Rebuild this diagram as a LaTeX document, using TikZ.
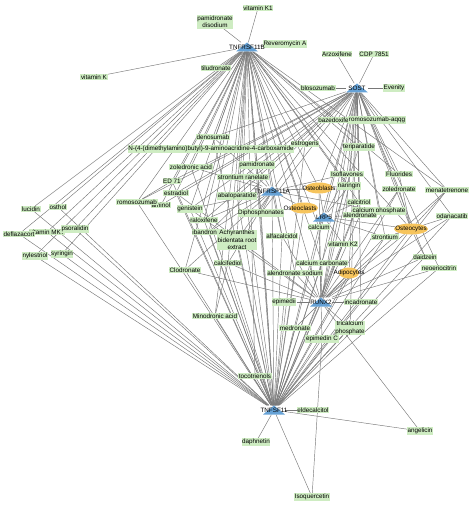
\documentclass[tikz,border=0pt]{standalone}
\usepackage{fontspec}
\setsansfont{Liberation Sans}
\usepackage{tikz}
\usetikzlibrary{positioning,shapes,backgrounds}
\definecolor{drugfill}{RGB}{206,236,194}
\definecolor{hubfill}{RGB}{102,162,214}
\definecolor{cellfill}{RGB}{246,196,92}
\definecolor{edgecol}{RGB}{120,120,120}
\newcommand{\netfont}{\sffamily\fontsize{6.3}{7.5}\selectfont}
\tikzstyle{drug}=[fill=drugfill, inner sep=0.6pt, font=\netfont, align=center]
\tikzstyle{tag}=[font=\netfont, inner sep=0]
\tikzstyle{hub}=[inner sep=0, minimum width=22pt, minimum height=9pt,
  path picture={\fill[hubfill] (path picture bounding box.south west) -- (path picture bounding box.north) -- (path picture bounding box.south east) -- cycle;}]
\tikzstyle{cell}=[ellipse, fill=cellfill, minimum width=28pt, minimum height=11pt, inner sep=0]
\tikzstyle{link}=[draw=edgecol, line width=0.45pt]

\begin{document}
\begin{tikzpicture}[x=1pt,y=-1pt,node distance=38pt]
\useasboundingbox (0,0) rectangle (474,505);

% top
\node[drug] at (258,8) (vitkone) {vitamin K1};
\node[drug] at (215,22) (pamidis) {pamidronate\\disodium};
\node[drug] at (285,44) (reveromycin) {Reveromycin A};
\node[hub, label={[tag]center:TNFRSF11B}] at (247,47) (tnfrsfb) {};
\node[drug] at (216,68) (tiludronate) {tiludronate};
\node[drug] at (94,77) (vitk) {vitamin K};
\node[drug] at (337,54) (arzox) {Arzoxifene};
\node[drug] at (374,54) (cdp) {CDP 7851};
\node[hub, label={[tag]center:SOST}] at (357,88) (sost) {};
\node[drug, left of = sost, node distance = 39pt] (blosozumab) {blosozumab};
\node[drug, right of = sost, node distance = 37pt] (evenity) {Evenity};
\node[drug] at (337,120) (bazedox) {bazedoxifene};
\node[drug] at (377,120) (romoaqqg) {romosozumab-aqqg};

% middle
\node[drug] at (213,137) (denosumab) {denosumab};
\node[drug] at (211,149) (acridine) {N-(4-(dimethylamino)butyl)-9-aminoacridine-4-carboxamide};
\node[drug] at (305,144) (estrogens) {estrogens};
\node[drug] at (359,147) (teriparatide) {teriparatide};
\node[drug] at (191,167) (zoledronicacid) {zoledronic acid};
\node[drug] at (257,165) (pamidronate) {pamidronate};
\node[drug] at (243,177) (stronrane) {strontium ranelate};
\node[drug] at (172,181) (edsevone) {ED 71};
\node[drug] at (176,193) (estradiol) {estradiol};
\node[drug] at (237,196) (abaloparatide) {abaloparatide};
\node[drug] at (347,174) (isoflavones) {Isoflavones};
\node[drug] at (399,174) (fluorides) {Fluorides};
\node[drug] at (349,186) (naringin) {naringin};
\node[drug] at (399,189) (zoledronate) {zoledronate};
\node[drug] at (447,190) (menatetrenone) {menatetrenone};
\node[hub, label={[tag]center:TNFRSF11A}] at (272,191) (tnfrsfa) {};
\node[cell, label={[tag]center:Osteoblasts}] at (319,188) (osteoblasts) {};
\node[drug] at (161,205) (aminol) {aminol};
\node[drug] at (137,202) (romosozumab) {romosozumab};
\node[drug] at (190,209) (genistein) {genistein};
\node[drug] at (359,202) (calcitriol) {calcitriol};
\node[cell, label={[tag, xshift=-4pt]center:Osteoclasts}] at (304,208) (osteoclasts) {};
\node[drug] at (261,213) (diphos) {Diphosphonates};
\node[hub, label={[tag]center:LRP5}] at (324,217) (lrp) {};
\node[drug] at (379,211) (calciumphos) {calcium phosphate};
\node[drug] at (360,215) (alendronate) {alendronate};
\node[drug] at (452,216) (odanacatib) {odanacatib};
\node[drug] at (204,220) (raloxifene) {raloxifene};
\node[drug] at (319,227) (calcium) {calcium};
\node[cell, minimum width=34pt, label={[tag]center:Osteocytes}] at (411,229) (osteocytes) {};
\node[drug] at (209,232) (ibandronate) {ibandronate};
\node[drug] at (237,240) (achyranthes) {Achyranthes\\bidentata root\\extract};
\node[drug] at (282,236) (alfacalcidol) {alfacalcidol};

% left group
\node[drug] at (31,209) (lucidin) {lucidin};
\node[drug] at (58,207) (osthol) {osthol};
\node[drug] at (47,232) (vitmk) {vitamin MK7};
\node[drug] at (19,234) (deflazacort) {deflazacort};
\node[drug] at (75,229) (psoralidin) {psoralidin};
\node[drug] at (35,256) (nylestriol) {nylestriol};
\node[drug] at (62,254) (syringin) {syringin};

% lower
\node[drug] at (185,270) (clodronate) {Clodronate};
\node[drug] at (228,263) (calcifediol) {calcifediol};
\node[drug] at (343,244) (vitktwo) {vitamin K2};
\node[drug] at (385,237) (strontium) {strontium};
\node[drug] at (425,257) (daidzein) {daidzein};
\node[drug] at (439,268) (neoeriocitrin) {neoeriocitrin};
\node[drug] at (322,263) (calciumcarb) {calcium carbonate};
\node[drug] at (295,273) (alensodium) {alendronate sodium};
\node[cell, minimum width=20pt, label={[tag]center:Adipocytes}] at (349,273) (adipocytes) {};
\node[hub, label={[tag]center:RUNX2}] at (321,302) (runx) {};
\node[drug, left of = runx, node distance = 37pt] (epimedii) {epimedii};
\node[drug, right of = runx, node distance = 40pt] (incadronate) {incadronate};
\node[drug] at (215,316) (minodronic) {Minodronic acid};
\node[drug] at (295,328) (medronate) {medronate};
\node[drug] at (350,328) (tricalcium) {tricalcium\\phosphate};
\node[drug] at (322,339) (epimedinc) {epimedin C};
\node[drug] at (255,376) (tocotrienols) {tocotrienols};
\node[hub, label={[tag]center:TNFSF11}] at (274,410) (tnfsf) {};
\node[drug, right of = tnfsf, node distance = 39pt] (eldecalcitol) {eldecalcitol};
\node[drug] at (420,431) (angelicin) {angelicin};
\node[drug] at (256,442) (daphnetin) {daphnetin};
\node[drug] at (312,497) (isoquercetin) {Isoquercetin};

\begin{pgfonlayer}{background}
\draw[link] (tnfrsfb) edge (vitkone) edge (pamidis) edge (reveromycin) edge (tiludronate) edge (vitk)
  edge (denosumab) edge (acridine) edge (zoledronicacid) edge (stronrane) edge (pamidronate)
  edge (edsevone) edge (estradiol) edge (aminol) edge (romosozumab) edge (genistein)
  edge (raloxifene) edge (ibandronate) edge (achyranthes) edge (abaloparatide) edge (diphos)
  edge (alfacalcidol) edge (lucidin) edge (osthol) edge (deflazacort) edge (vitmk)
  edge (psoralidin) edge (nylestriol) edge (syringin) edge (clodronate) edge (calcifediol)
  edge (minodronic) edge (tnfrsfa) edge (osteoblasts) edge (osteoclasts) edge (estrogens)
  edge (teriparatide) edge (calcitriol) edge (calcium) edge (runx) edge (alensodium)
  edge (calciumcarb) edge (tocotrienols) edge (tnfsf) edge (bazedox) edge (isoflavones)
  edge (naringin) edge (fluorides) edge (osteocytes) edge (menatetrenone);
\draw[link] (tnfsf) edge (lucidin) edge (osthol) edge (deflazacort) edge (vitmk) edge (psoralidin)
  edge (nylestriol) edge (syringin) edge (clodronate) edge (minodronic) edge (tocotrienols)
  edge (daphnetin) edge (eldecalcitol) edge (angelicin) edge (isoquercetin) edge (denosumab)
  edge (zoledronicacid) edge (edsevone) edge (estradiol) edge (romosozumab) edge (genistein)
  edge (raloxifene) edge (ibandronate) edge (achyranthes) edge (calcifediol) edge (diphos)
  edge (alfacalcidol) edge (abaloparatide) edge (stronrane) edge (pamidronate) edge (tnfrsfa)
  edge (osteoclasts) edge (calcium) edge (alensodium) edge (calciumcarb) edge (epimedii)
  edge (runx) edge (medronate) edge (epimedinc) edge (tricalcium) edge (vitktwo)
  edge (strontium) edge (adipocytes) edge (incadronate) edge (daidzein) edge (neoeriocitrin)
  edge (odanacatib) edge (menatetrenone) edge (osteocytes) edge (zoledronate) edge (estrogens)
  edge (teriparatide) edge (calcitriol) edge (alendronate) edge (lrp);
\draw[link] (sost) edge (arzox) edge (cdp) edge (blosozumab) edge (evenity) edge (bazedox)
  edge (romoaqqg) edge (romosozumab) edge (aminol) edge (edsevone) edge (estradiol)
  edge (genistein) edge (raloxifene) edge (ibandronate) edge (estrogens) edge (teriparatide)
  edge (isoflavones) edge (fluorides) edge (naringin) edge (zoledronate) edge (menatetrenone)
  edge (odanacatib) edge (osteoblasts) edge (osteocytes) edge (lrp) edge (calcitriol)
  edge (calcium) edge (vitktwo) edge (strontium) edge (daidzein) edge (neoeriocitrin)
  edge (runx) edge (abaloparatide) edge (diphos) edge (alendronate) edge (calciumphos)
  edge (denosumab) edge (stronrane) edge (calciumcarb) edge (adipocytes) edge (incadronate)
  edge (tricalcium);
\draw[link] (runx) edge (epimedii) edge (incadronate) edge (medronate) edge (tricalcium)
  edge (epimedinc) edge (calciumcarb) edge (alensodium) edge (adipocytes) edge (osteoblasts)
  edge (vitktwo) edge (strontium) edge (daidzein) edge (neoeriocitrin) edge (calcium)
  edge (clodronate) edge (calcifediol) edge (angelicin) edge (isoflavones) edge (naringin)
  edge (calcitriol) edge (alfacalcidol) edge (genistein) edge (estradiol) edge (odanacatib)
  edge (zoledronate) edge (menatetrenone) edge (osteocytes);
\draw[link] (tnfrsfa) edge (osteoclasts) edge (osteoblasts) edge (stronrane) edge (pamidronate)
  edge (abaloparatide) edge (diphos) edge (zoledronicacid) edge (denosumab) edge (genistein)
  edge (raloxifene) edge (ibandronate) edge (achyranthes) edge (calcifediol) edge (clodronate)
  edge (alfacalcidol) edge (calciumphos) edge (estrogens) edge (naringin) edge (isoflavones);
\draw[link] (lrp) edge (osteoblasts) edge (calcium) edge (alendronate) edge (calcitriol)
  edge (naringin) edge (osteocytes) edge (vitktwo) edge (strontium) edge (isoflavones);
\draw[link] (osteocytes) edge (fluorides) edge (zoledronate) edge (strontium)
  edge (menatetrenone) edge (odanacatib) edge (daidzein);
\draw[link] (isoquercetin) -- (epimedinc);
\draw[link] (edsevone) -- (romosozumab);
\draw[link] (minodronic) -- (calcifediol);
\end{pgfonlayer}
\end{tikzpicture}
\end{document}
